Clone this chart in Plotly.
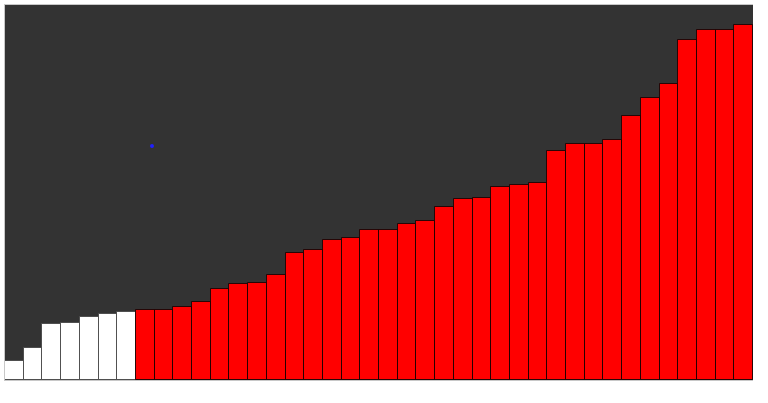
import plotly.graph_objects as go

categories = list(range(1, 41))
values = [19, 32.3, 56, 57.3, 63.3, 66.3, 67.7, 70.3, 70.3, 73.3,
          78.3, 91.3, 96, 97.3, 105, 126.7, 130.3, 139.7, 142.3, 149.7,
          149.7, 155.7, 159.3, 173, 180.7, 182.3, 192.7, 195.3, 197.3, 229.3,
          235.7, 236.3, 240.3, 263.7, 282.3, 296.3, 340.3, 350.3, 350.3, 355]
white_count = 7
point_x = [8.36]
point_y = [234]

colors = ["#ffffff"] * white_count + ["#ff0000"] * (len(values) - white_count)
outline = ["rgba(60,60,60,0.8)"] * white_count + ["rgba(0,0,0,0.75)"] * (len(values) - white_count)

fig = go.Figure()
fig.add_trace(go.Bar(
    x=categories, y=values,
    marker=dict(color=colors, line=dict(color=outline, width=1)),
    showlegend=False, hoverinfo="skip",
))
fig.add_trace(go.Scatter(
    x=point_x, y=point_y, mode="markers",
    marker=dict(color="#2020ff", size=4),
    showlegend=False, hoverinfo="skip",
))
fig.update_layout(
    width=768, height=403,
    margin=dict(l=5, r=15, t=5, b=23),
    paper_bgcolor="#ffffff", plot_bgcolor="#333333",
    bargap=0,
    xaxis=dict(range=[0.5, 40.5], showticklabels=False, ticks="", showgrid=False,
               zeroline=False, showline=True, linecolor="#c8c8c8", linewidth=1, mirror=True),
    yaxis=dict(range=[0, 375], showticklabels=False, ticks="", showgrid=False,
               zeroline=False, showline=True, linecolor="#c8c8c8", linewidth=1),
)
fig.write_html("out.html", config={"displayModeBar": False},
               post_script="document.body.style.margin='0';")
